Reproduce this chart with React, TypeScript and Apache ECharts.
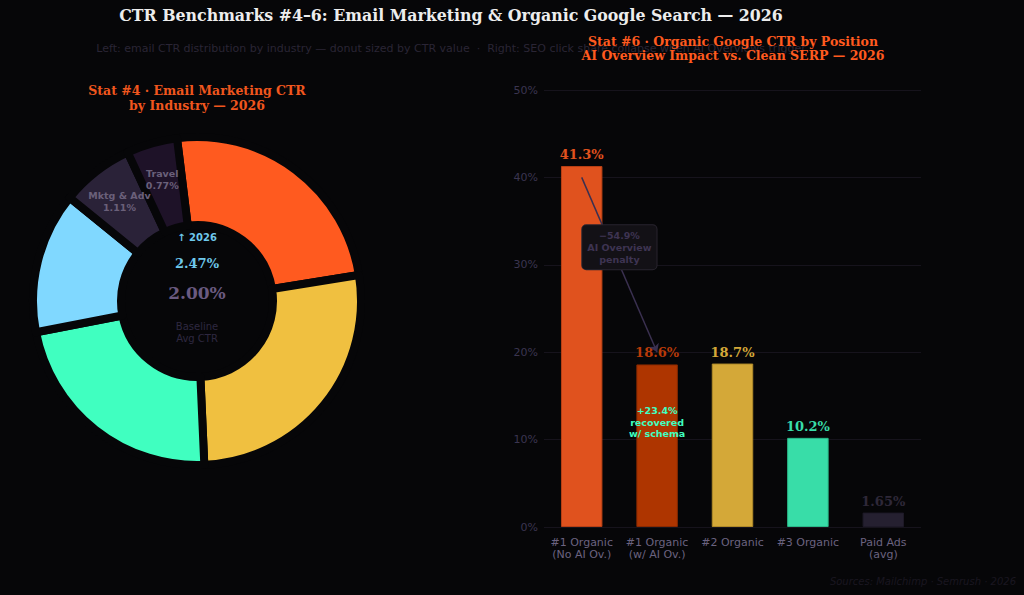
import React, { useEffect, useRef } from "react";
import * as echarts from "echarts";

// ---- Data ----
const industries = ["Hobbies", "Media & Publishing", "Government", "Education", "Mktg & Adv", "Travel"];
const industryCtr = [3.76, 4.13, 3.49, 2.14, 1.11, 0.77];
const industryColors = ["#FF5A1F", "#F0C040", "#40FFC0", "#80D8FF", "#2A2238", "#1E1228"];
const labeledIndustries = ["Mktg & Adv", "Travel"];

const positions = ["#1 Organic\n(No AI Ov.)", "#1 Organic\n(w/ AI Ov.)", "#2 Organic", "#3 Organic", "Paid Ads\n(avg)"];
const positionCtr = [41.3, 18.6, 18.7, 10.2, 1.65];
const positionLabels = ["41.3%", "18.6%", "18.7%", "10.2%", "1.65%"];
const positionColors = ["#E0521E", "#AE3500", "#D4A838", "#38DDA8", "#252030"];
const positionBorders = ["#B84015", "#8A2A00", "#B08A28", "#2AB888", "#1E1A28"];
const positionLabelColors = ["#E0521E", "#B83A08", "#D4A838", "#38DDA8", "#2E2838"];

const yTicks = [0, 10, 20, 30, 40, 50];

const SERIF = "'DejaVu Serif', serif";
const SANS = "'DejaVu Sans', sans-serif";

const PIE_CENTER = [197, 301];
const PIE_START = 97;

export default function App() {
  const ref = useRef<HTMLDivElement>(null);

  useEffect(() => {
    if (!ref.current) return;
    const chart = echarts.init(ref.current, undefined, { renderer: "svg" });

    const option: any = {
      animation: false,
      backgroundColor: "#060608",
      grid: { left: 544, right: 103, top: 90, bottom: 68 },
      xAxis: {
        type: "category",
        data: positions,
        axisLine: { show: false },
        axisTick: { show: false },
        axisLabel: { color: "#6B6380", fontSize: 11, fontFamily: SANS, margin: 9, lineHeight: 12, interval: 0 },
      },
      yAxis: {
        type: "value",
        min: yTicks[0],
        max: yTicks[yTicks.length - 1],
        interval: 10,
        axisLine: { show: false },
        axisTick: { show: false },
        axisLabel: { color: "#3B3550", fontSize: 11, fontFamily: SANS, formatter: "{value}%", margin: 6 },
        splitLine: { lineStyle: { color: "#16131C", width: 1 } },
      },
      series: [
        {
          type: "pie",
          center: PIE_CENTER,
          radius: [76, 164],
          startAngle: PIE_START,
          clockwise: true,
          silent: true,
          itemStyle: { borderColor: "#060608", borderWidth: 8 },
          label: { show: false },
          labelLine: { show: false },
          data: industries.map((name, i) => ({
            name,
            value: industryCtr[i],
            itemStyle: { color: industryColors[i] },
          })),
        },
        {
          type: "bar",
          barWidth: "55%",
          silent: true,
          data: positionCtr.map((v, i) => ({
            value: v,
            itemStyle: { color: positionColors[i], borderColor: positionBorders[i], borderWidth: 1 },
            label: {
              show: true,
              position: "top",
              distance: 5,
              formatter: positionLabels[i],
              color: positionLabelColors[i],
              fontFamily: SERIF,
              fontWeight: "bold",
              fontSize: 13,
            },
          })),
          markLine: {
            silent: true,
            symbol: ["none", "arrow"],
            symbolSize: 8,
            label: { show: false },
            lineStyle: { color: "#3A3050", width: 1.5, type: "solid" },
            data: [[{ coord: [0, 40] }, { coord: [1, 20] }]],
          },
        },
      ],
    };
    chart.setOption(option);

    const p0 = chart.convertToPixel({ gridIndex: 0 }, [0, 32]) as number[];
    const p1 = chart.convertToPixel({ gridIndex: 0 }, [1, 32]) as number[];
    const q1 = chart.convertToPixel({ gridIndex: 0 }, [1, 12]) as number[];

    const txt = (text: string, x: number, y: number, fill: string, font: string, extra: any = {}) => ({
      type: "text",
      x,
      y,
      z: 100,
      silent: true,
      style: { text, fill, font, textAlign: "center", textVerticalAlign: "middle", ...extra },
    });

    // labels of the small slices, placed at each slice's mid-angle
    const total = industryCtr.reduce((a, b) => a + b, 0);
    let cum = 0;
    const sliceLabels: any[] = [];
    industries.forEach((name, i) => {
      const mid = cum + industryCtr[i] / 2;
      cum += industryCtr[i];
      if (!labeledIndustries.includes(name)) return;
      const ang = ((PIE_START - (mid / total) * 360) * Math.PI) / 180;
      const r = 126;
      sliceLabels.push(
        txt(`${name}\n${industryCtr[i].toFixed(2)}%`, PIE_CENTER[0] + r * Math.cos(ang), PIE_CENTER[1] - r * Math.sin(ang), "#6A607A", `bold 9.5px ${SANS}`, { lineHeight: 12 })
      );
    });

    chart.setOption({
      graphic: [
        txt("Left: email CTR distribution by industry — donut sized by CTR value  ·  Right: SEO click share collapse when AI Overviews trigger", 451, 48, "#2A2535", `11px ${SANS}`),
        txt("CTR Benchmarks #4–6: Email Marketing & Organic Google Search — 2026", 451, 15, "#EDEDED", `bold 15.8px ${SERIF}`),
        txt("Stat #4 · Email Marketing CTR\nby Industry — 2026", 197, 98, "#F0561E", `bold 12.5px ${SERIF}`, { lineHeight: 15 }),
        txt("Stat #6 · Organic Google CTR by Position\nAI Overview Impact vs. Clean SERP — 2026", 733, 48, "#FF5A1F", `bold 12.5px ${SERIF}`, { lineHeight: 14 }),
        ...sliceLabels,
        txt("↑ 2026", 197, 237, "#6EC8EC", `bold 10px ${SANS}`),
        txt("2.47%", 197, 263, "#6EC8EC", `bold 13px ${SERIF}`),
        txt("2.00%", 197, 293, "#6A5A80", `bold 17px ${SERIF}`),
        txt("Baseline\nAvg CTR", 197, 332, "#2E2840", `10px ${SANS}`, { lineHeight: 12 }),
        txt("−54.9%\nAI Overview\npenalty", (p0[0] + p1[0]) / 2, p0[1], "#3E3452", `bold 9.5px ${SANS}`, {
          lineHeight: 12,
          backgroundColor: "#131116",
          borderColor: "#29252F",
          borderWidth: 1,
          borderRadius: 4,
          padding: [4, 5],
        }),
        txt("+23.4%\nrecovered\nw/ schema", q1[0], q1[1], "#40FFC0", `bold 9.5px ${SANS}`, { lineHeight: 11.5 }),
        txt("Sources: Mailchimp · Semrush · 2026", 1016, 581, "#1A1620", `italic 10px ${SANS}`, { textAlign: "right" }),
      ],
    });

    return () => chart.dispose();
  }, []);

  return <div ref={ref} style={{ position: "fixed", left: 0, top: 0, width: 1024, height: 595 }} />;
}
